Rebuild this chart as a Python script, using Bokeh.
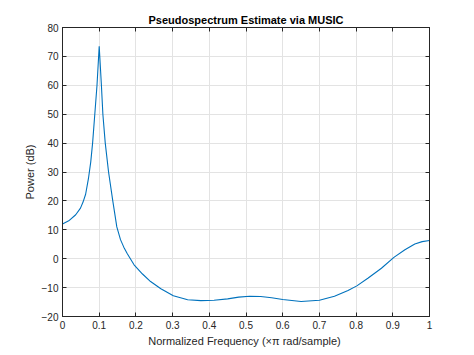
from bokeh.plotting import figure
from bokeh.models import LinearAxis, FixedTicker, NumeralTickFormatter, Range1d
from bokeh.embed import file_html
from bokeh.resources import INLINE

# Data
freq = [0.0, 0.017, 0.036, 0.049, 0.056, 0.063, 0.071, 0.077, 0.082, 0.088,
        0.094, 0.1,
        0.106, 0.110, 0.1165, 0.1255, 0.137, 0.148, 0.158, 0.167, 0.177, 0.195,
        0.218, 0.24, 0.268, 0.302, 0.341, 0.377, 0.413, 0.45, 0.48, 0.51, 0.54,
        0.57, 0.6, 0.65, 0.7, 0.741, 0.778, 0.802, 0.833, 0.869, 0.903, 0.933,
        0.96, 0.98, 1.0]
power = [12.0, 13.1, 15.2, 17.5, 19.6, 22.3, 28.0, 33.5, 40.0, 50.0,
         60.0, 73.5,
         60.0, 50.0, 40.0, 30.0, 20.0, 11.0, 6.6, 4.0, 1.6, -2.1,
         -5.3, -7.9, -10.4, -12.8, -14.2, -14.5, -14.4, -13.9, -13.3, -13.0, -13.1,
         -13.5, -14.1, -14.8, -14.4, -13.0, -11.0, -9.4, -6.7, -3.3, 0.45, 3.1,
         5.1, 5.9, 6.3]
x_ticks = [0, 0.1, 0.2, 0.3, 0.4, 0.5, 0.6, 0.7, 0.8, 0.9, 1.0]
y_ticks = [-20, -10, 0, 10, 20, 30, 40, 50, 60, 70, 80]

title_text = "Pseudospectrum Estimate via MUSIC"
x_label = "Normalized Frequency  (\u00d7\u03c0 rad/sample)"
y_label = "Power (dB)"

FONT = "Liberation Sans"
AX = "#262626"

p = figure(width=474, height=355, output_backend="svg", toolbar_location=None,
           x_range=Range1d(0, 1), y_range=Range1d(-20, 80),
           x_axis_location=None, y_axis_location=None,
           min_border_left=62, min_border_right=45, min_border_top=27,
           min_border_bottom=39)
p.title.text = title_text
p.title.align = "center"
p.title.text_font = FONT
p.title.text_font_size = "11px"
p.title.text_font_style = "bold"
p.title.text_color = "#000000"
p.title.standoff = 3
p.title.offset = 0

p.background_fill_color = "white"
p.border_fill_color = "white"
p.outline_line_color = AX
p.outline_line_width = 1


def make_axis(ticks, show_labels, label=None, fmt=None):
    ax = LinearAxis(ticker=FixedTicker(ticks=ticks))
    ax.major_tick_in = 4
    ax.major_tick_out = 0
    ax.minor_tick_in = 0
    ax.minor_tick_out = 0
    ax.axis_line_color = AX
    ax.major_tick_line_color = AX
    if fmt is not None:
        ax.formatter = fmt
    if show_labels:
        ax.major_label_text_font = FONT
        ax.major_label_text_font_size = "10px"
        ax.major_label_text_color = AX
        ax.major_label_standoff = 4
        if label:
            ax.axis_label = label
            ax.axis_label_text_font = FONT
            ax.axis_label_text_font_size = "11px"
            ax.axis_label_text_font_style = "normal"
            ax.axis_label_text_color = AX
            ax.axis_label_standoff = 3
    else:
        ax.major_label_text_color = None
        ax.major_label_text_font_size = "1px"
        ax.major_label_standoff = 0
    return ax


fmt = NumeralTickFormatter(format="0.[0]")
p.add_layout(make_axis(x_ticks, True, x_label, fmt), "below")
p.add_layout(make_axis(y_ticks, True, y_label), "left")
p.add_layout(make_axis(x_ticks, False), "above")
p.add_layout(make_axis(y_ticks, False), "right")

p.xgrid.ticker = FixedTicker(ticks=x_ticks)
p.ygrid.ticker = FixedTicker(ticks=y_ticks)
p.xgrid.grid_line_color = "#e3e3e3"
p.ygrid.grid_line_color = "#e3e3e3"

p.line(freq, power, line_color="#0072BD", line_width=1.1)

open("out.html", "w").write(file_html(p, INLINE))
